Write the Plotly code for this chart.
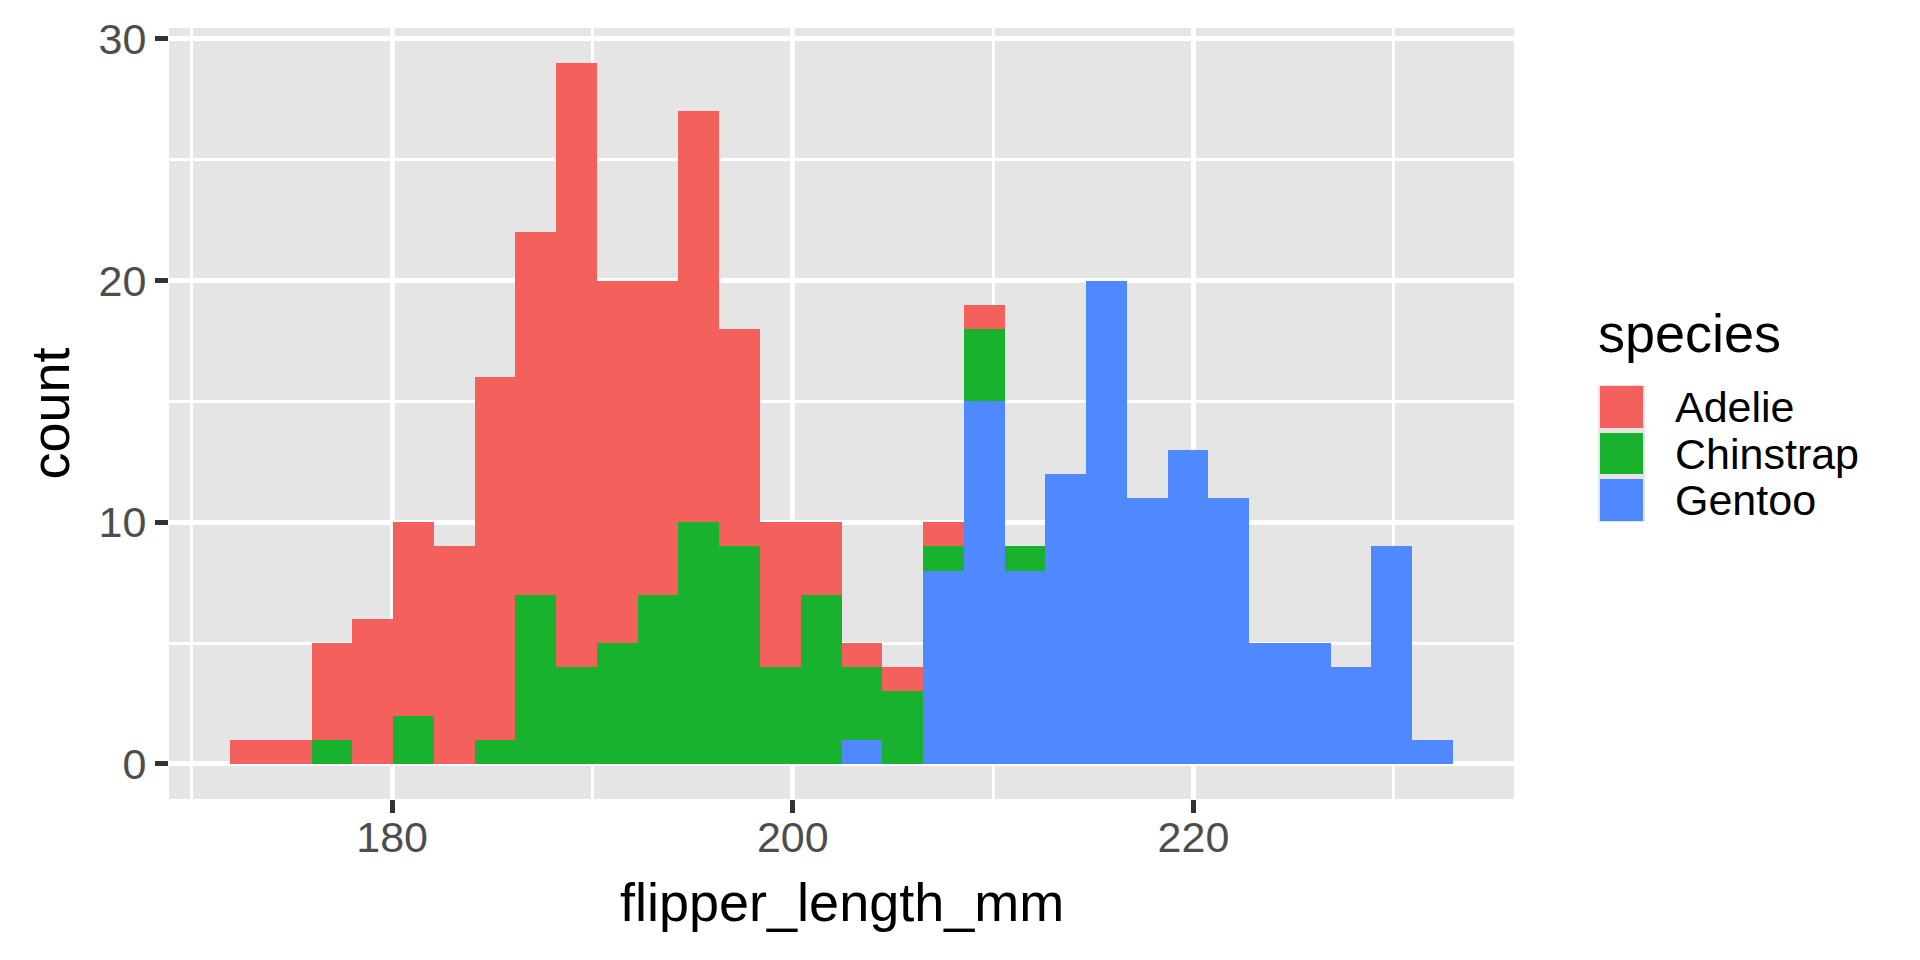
import plotly.graph_objects as go

# ---- data (counts per histogram bin, 30 bins) ----
species = ["Adelie", "Chinstrap", "Gentoo"]
colors = ["#F4605B", "#19B22F", "#5088FF"]
flipper_min = 172
flipper_max = 231
n_bins = 30
adelie = [1, 1, 4, 6, 8, 9, 15, 15, 25, 15, 13, 17, 9, 6, 3,
          1, 1, 1, 1, 0, 0, 0, 0, 0, 0, 0, 0, 0, 0, 0]
chinstrap = [0, 0, 1, 0, 2, 0, 1, 7, 4, 5, 7, 10, 9, 4, 7,
             3, 3, 1, 3, 1, 0, 0, 0, 0, 0, 0, 0, 0, 0, 0]
gentoo = [0, 0, 0, 0, 0, 0, 0, 0, 0, 0, 0, 0, 0, 0, 0,
          1, 0, 8, 15, 8, 12, 20, 11, 13, 11, 5, 5, 4, 9, 1]
x_ticks = [180, 200, 220]
y_ticks = [0, 10, 20, 30]

# ---- bins as ggplot2 computes them (bins = 30) ----
bw = (flipper_max - flipper_min) / (n_bins - 1)
boundary = bw / 2
shift = int((flipper_min - boundary) // bw)
origin = boundary + shift * bw
centers = [origin + bw * (i + 0.5) for i in range(n_bins)]
x_lo, x_hi = origin, origin + n_bins * bw
x_pad = 0.05 * (x_hi - x_lo)
totals = [a + c + g for a, c, g in zip(adelie, chinstrap, gentoo)]
y_pad = 0.05 * max(totals)

OFF = 8  # page body margin offset
W, H = 1920 - OFF, 960 - OFF
L, R, T, B = 169 - OFF, 1514 - OFF, 28 - OFF, 799 - OFF
FONT = "Liberation Sans, Arial, Helvetica, sans-serif"

fig = go.Figure()
series = {"Adelie": adelie, "Chinstrap": chinstrap, "Gentoo": gentoo}
# ggplot stacks first level on top: draw Gentoo first (bottom)
for name in ["Gentoo", "Chinstrap", "Adelie"]:
    col = colors[species.index(name)]
    fig.add_trace(go.Bar(
        x=centers, y=series[name], width=bw, name=name,
        marker=dict(color=col, line=dict(width=0)),
        showlegend=False,
    ))

# helpers: screen pixel (in 1920x960 window) -> paper coordinate
def px_x(p):
    return (p - OFF - L) / (R - L)

def px_y(p):
    return (B - (p - OFF)) / (B - T)

shapes = []
annotations = []
# legend key background
shapes.append(dict(type="rect", xref="paper", yref="paper",
                   x0=px_x(1598), x1=px_x(1645), y0=px_y(522), y1=px_y(385),
                   fillcolor="#E5E5E5", line=dict(width=0), layer="above"))
key_rows = [(386, 428), (433, 474), (479, 521)]
for i, name in enumerate(species):
    y0, y1 = key_rows[i]
    shapes.append(dict(type="rect", xref="paper", yref="paper",
                       x0=px_x(1600), x1=px_x(1643), y0=px_y(y1), y1=px_y(y0),
                       fillcolor=colors[i], line=dict(width=0), layer="above"))
    annotations.append(dict(text=name, xref="paper", yref="paper",
                            x=px_x(1673), y=px_y((y0 + y1) / 2),
                            xanchor="left", yanchor="middle", showarrow=False,
                            font=dict(family=FONT, size=43, color="black")))
annotations.append(dict(text="species", xref="paper", yref="paper",
                        x=px_x(1596), y=px_y(333), xanchor="left", yanchor="middle",
                        showarrow=False,
                        font=dict(family=FONT, size=54, color="black")))
annotations.append(dict(text="flipper_length_mm", xref="paper", yref="paper",
                        x=0.5, y=px_y(902), xanchor="center", yanchor="middle",
                        showarrow=False,
                        font=dict(family=FONT, size=54, color="black")))
annotations.append(dict(text="count", xref="paper", yref="paper",
                        x=px_x(49), y=0.5, xanchor="center", yanchor="middle",
                        textangle=-90, showarrow=False,
                        font=dict(family=FONT, size=54, color="black")))

fig.update_layout(
    width=W, height=H,
    margin=dict(l=L, r=W - R, t=T, b=H - B, pad=0, autoexpand=False),
    paper_bgcolor="white", plot_bgcolor="#E5E5E5",
    barmode="stack", bargap=0,
    showlegend=False,
    shapes=shapes, annotations=annotations,
    font=dict(family=FONT),
    xaxis=dict(
        range=[x_lo - x_pad, x_hi + x_pad], automargin=False,
        tickmode="array", tickvals=x_ticks, ticktext=[str(v) for v in x_ticks],
        showgrid=True, gridcolor="white", gridwidth=5.3,
        minor=dict(showgrid=True, gridcolor="white", gridwidth=2.7,
                   tickmode="array", tickvals=[170, 190, 210, 230], ticks=""),
        zeroline=False, showline=False,
        ticks="outside", ticklen=13, tickwidth=5.3, tickcolor="#333333",
        tickfont=dict(family=FONT, size=43, color="#4D4D4D"),
        ticklabelstandoff=-13,
    ),
    yaxis=dict(
        range=[-y_pad, max(totals) + y_pad], automargin=False,
        tickmode="array", tickvals=y_ticks, ticktext=[str(v) for v in y_ticks],
        showgrid=True, gridcolor="white", gridwidth=5.3,
        minor=dict(showgrid=True, gridcolor="white", gridwidth=2.7,
                   tickmode="array", tickvals=[5, 15, 25], ticks=""),
        zeroline=False, showline=False,
        ticks="outside", ticklen=13, tickwidth=5.3, tickcolor="#333333",
        tickfont=dict(family=FONT, size=43, color="#4D4D4D"),
    ),
)

fig.write_html("out.html")
